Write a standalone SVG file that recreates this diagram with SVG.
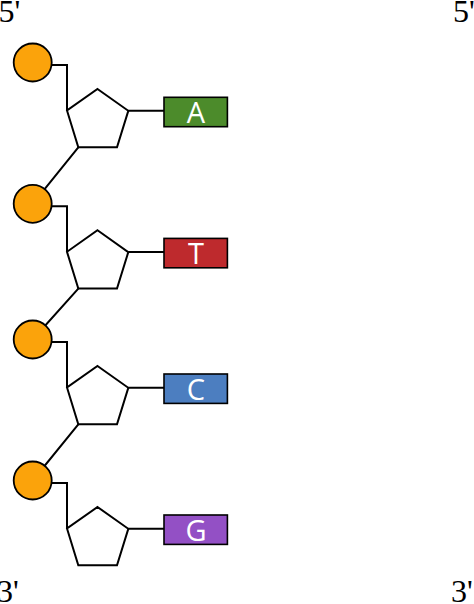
<svg xmlns="http://www.w3.org/2000/svg" width="474" height="604" viewBox="0 0 474 604">
<style>
.ln{fill:none;stroke:#000;stroke-width:2;stroke-linejoin:miter}
.ph{fill:#FBA30B;stroke:#000;stroke-width:1.8}
.sug{fill:#fff;stroke:#000;stroke-width:2;stroke-linejoin:miter}
.base{stroke:#000;stroke-width:1.6}
.bt{font-family:"Open Sans","Noto Sans",sans-serif;font-size:29px;fill:#fff;text-anchor:middle}
.end{font-family:"Liberation Serif","Times New Roman",serif;font-size:32px;fill:#000}
</style>
<rect width="474" height="604" fill="#fff"/>
<g id="connectors">
<path class="ln" d="M52 65H67V110.5M128.3 110.8H164M78.3 147.3L32.7 203.8"/>
<path class="ln" d="M52 206.3H67V251.8M128.3 252.1H164M78.3 288.6L32.7 339.5"/>
<path class="ln" d="M52 342H67V387.5M128.3 387.8H164M78.3 424.3L32.7 480.5"/>
<path class="ln" d="M52 483H67V528.5M128.3 528.8H164"/>
</g>
<g id="nucleotide-A">
<circle class="ph" cx="32.7" cy="62.5" r="19"/>
<polygon class="sug" points="97.5,89 128.3,110.8 117,147.3 78.3,147.3 67,110.5"/>
<rect class="base" x="164" y="97.3" width="63.4" height="29.4" fill="#4C8B2B"/>
<text class="bt" x="196" y="123">A</text>
</g>
<g id="nucleotide-T">
<circle class="ph" cx="32.7" cy="203.8" r="19"/>
<polygon class="sug" points="97.5,230.3 128.3,252.1 117,288.6 78.3,288.6 67,251.8"/>
<rect class="base" x="164" y="238.4" width="63.4" height="29.4" fill="#BE2A2D"/>
<text class="bt" x="196" y="264.3">T</text>
</g>
<g id="nucleotide-C">
<circle class="ph" cx="32.7" cy="339.5" r="19"/>
<polygon class="sug" points="97.5,366 128.3,387.8 117,424.3 78.3,424.3 67,387.5"/>
<rect class="base" x="164" y="374" width="63.4" height="29.4" fill="#4C7EC0"/>
<text class="bt" x="196" y="400">C</text>
</g>
<g id="nucleotide-G">
<circle class="ph" cx="32.7" cy="480.5" r="19"/>
<polygon class="sug" points="97.5,507 128.3,528.8 117,565.3 78.3,565.3 67,528.5"/>
<rect class="base" x="164" y="515" width="63.4" height="29.4" fill="#9350C5"/>
<text class="bt" x="196" y="541">G</text>
</g>
<g id="labels">
<text class="end" x="-1.5" y="21.5">5'</text>
<text class="end" x="453" y="21.5">5'</text>
<text class="end" x="-3" y="602">3'</text>
<text class="end" x="451" y="602">3'</text>
</g>
</svg>
